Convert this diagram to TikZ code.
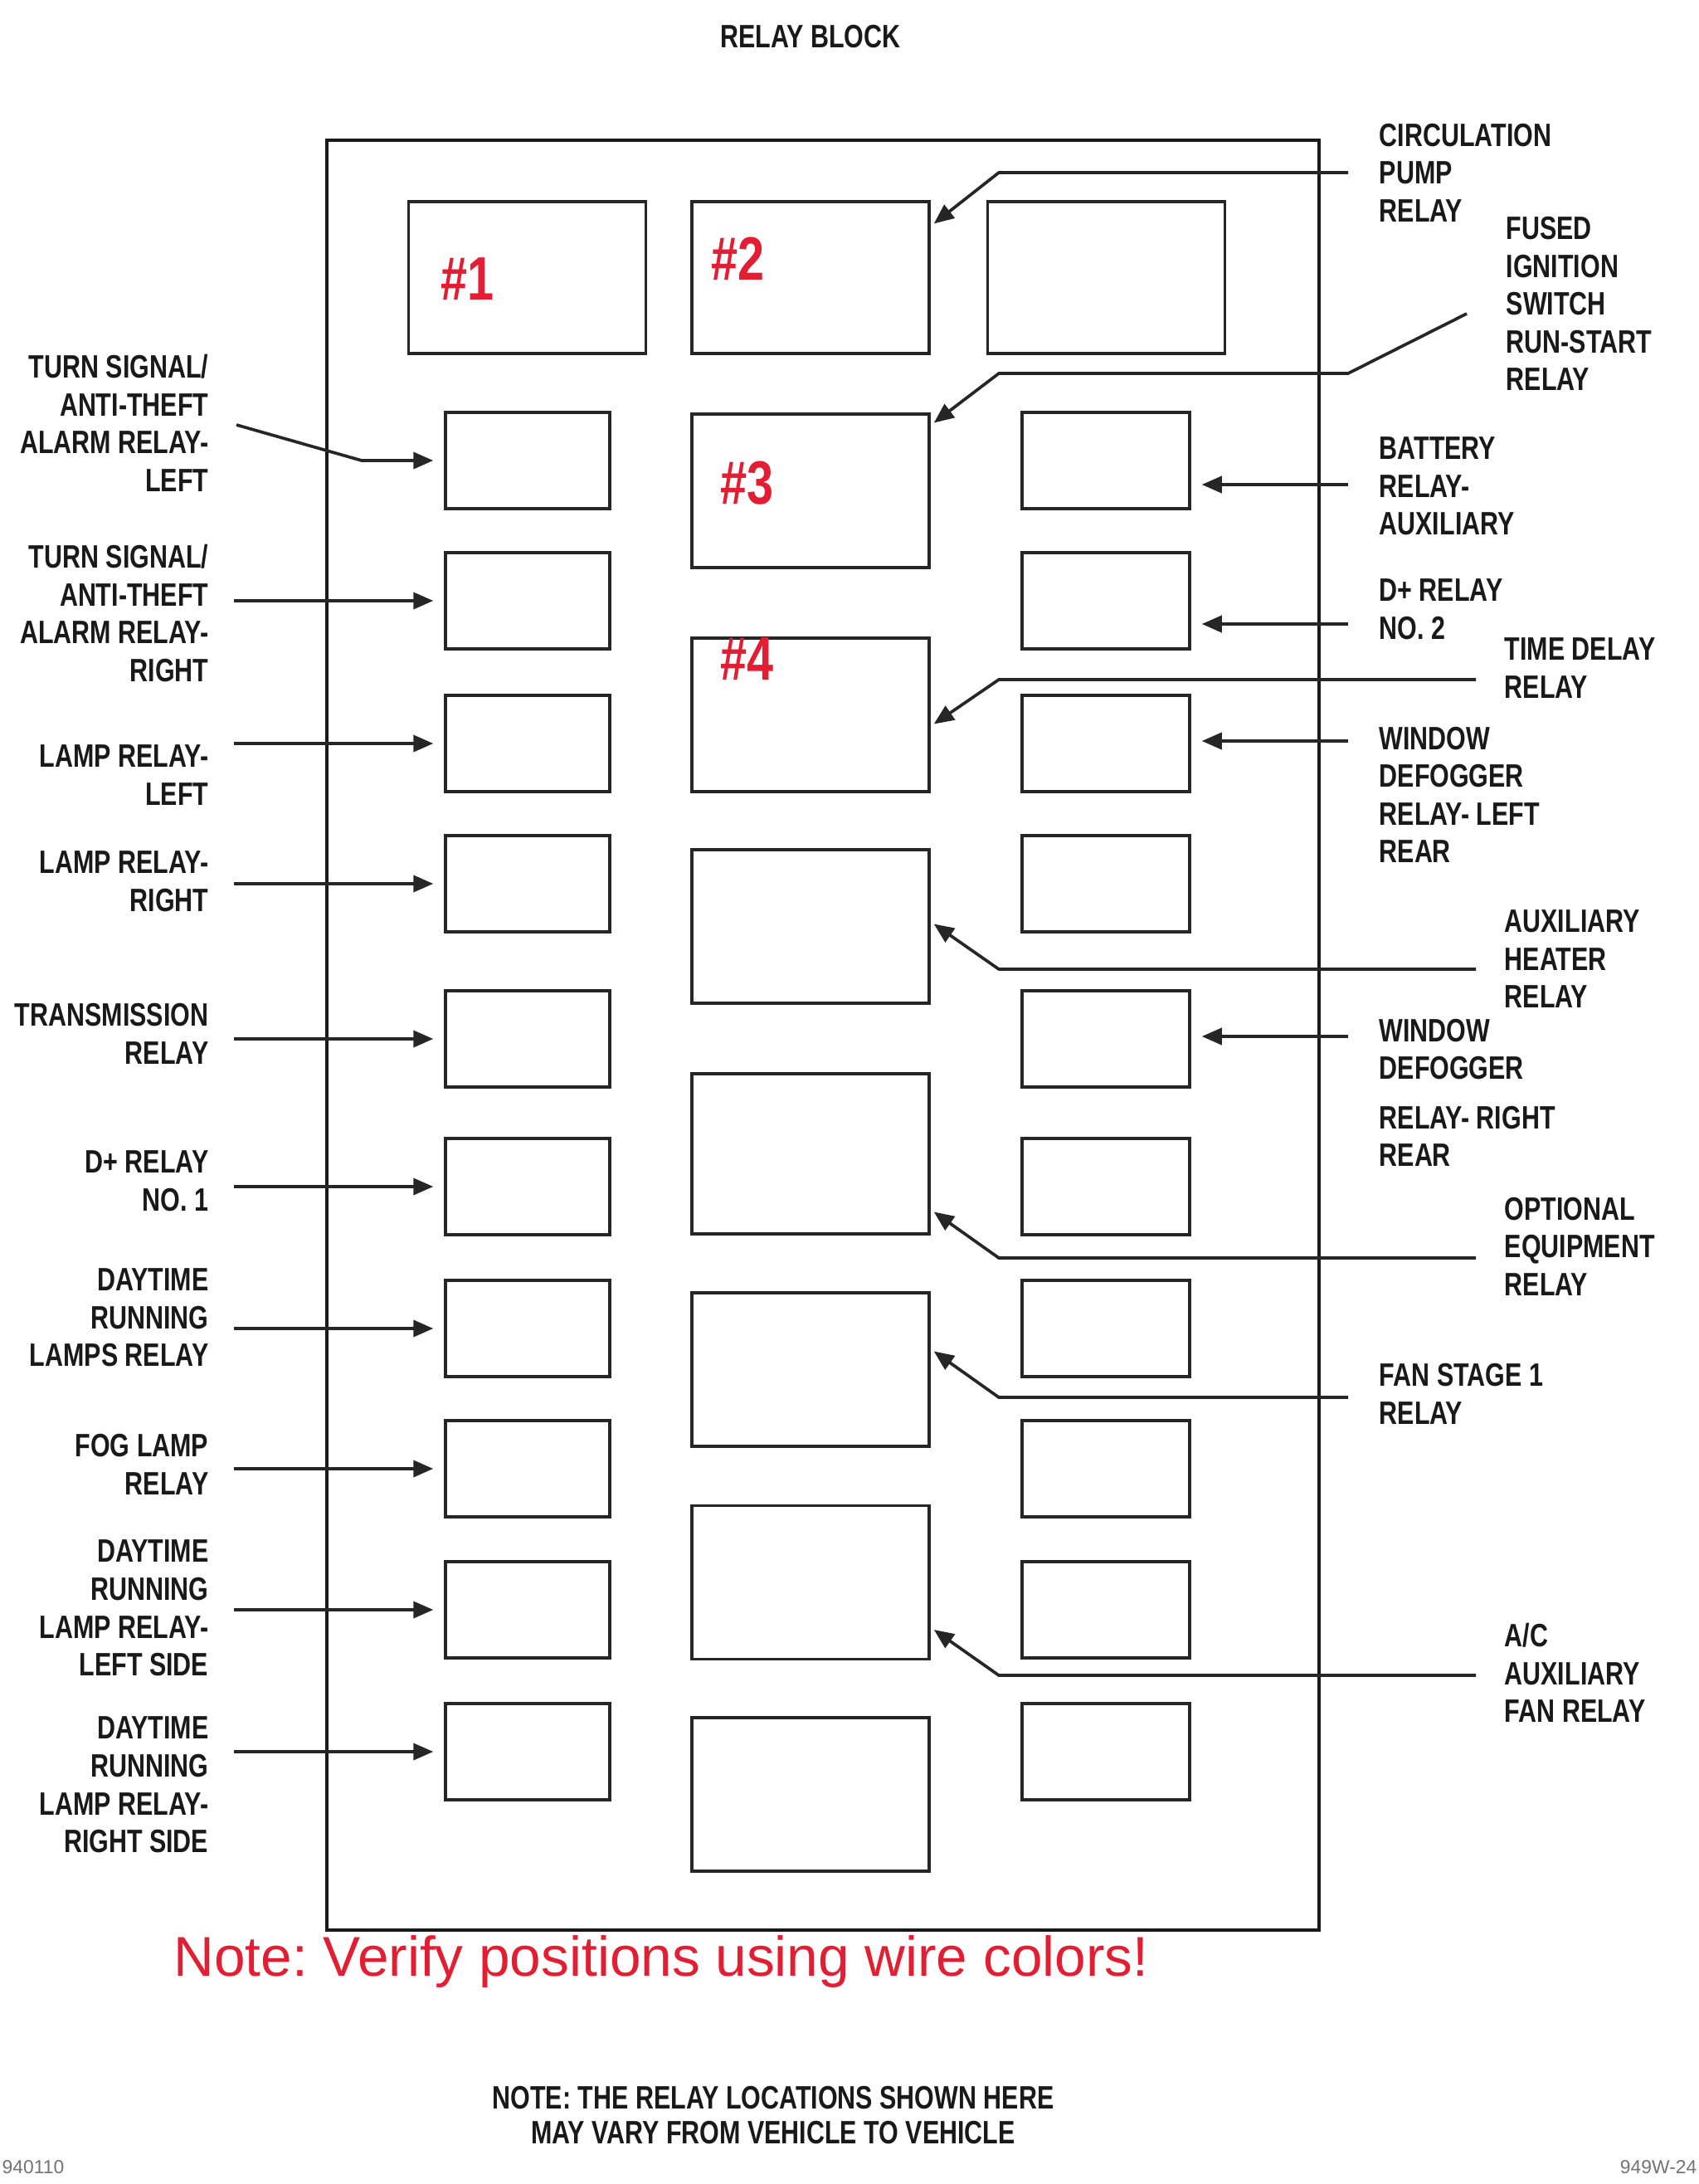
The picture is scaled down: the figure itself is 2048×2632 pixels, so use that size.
\documentclass[tikz,border=0pt]{standalone}
\usepackage{fontspec}
\setmainfont{Liberation Sans}
\newfontfamily\lblfont[FakeStretch=0.78]{Liberation Sans}
\usetikzlibrary{arrows.meta,calc}
\definecolor{notered}{RGB}{228,30,50}
\begin{document}
\frenchspacing
\begin{tikzpicture}[x=0.01cm,y=-0.01cm,
  boxline/.style={draw=black!85, line width=0.95pt, inner sep=0pt},
  lbox/.style={boxline, minimum width=1.98cm, minimum height=1.16cm},
  rbox/.style={boxline, minimum width=2.02cm, minimum height=1.16cm},
  mbox/.style={boxline, minimum width=2.86cm, minimum height=1.85cm},
  lbl/.style={font=\lblfont\bfseries\fontsize{11.1}{12.95}\selectfont, inner sep=0pt, text=black!90},
  lblL/.style={lbl, align=right, anchor=east},
  lblR/.style={lbl, align=left, anchor=west},
  conn/.style={line width=1.05pt, draw=black!85},
  arr/.style={conn, -{Triangle[length=0.24cm,width=0.2cm]}},
  sidearr/.style={arr, shorten >=0.13cm},
  numred/.style={font=\lblfont\bfseries\fontsize{21}{24}\selectfont, text=notered, inner sep=0pt}
]
\useasboundingbox (0,0) rectangle (2048,2632);

% title
\node[lbl] (title) at (977,44) {RELAY BLOCK};

% outer frame
\node[draw=black!90, line width=1.1pt, minimum width=11.96cm, minimum height=21.55cm, inner sep=0pt] (frame) at (992,1247.5) {};

% top row
\node[mbox, minimum height=1.83cm] (tb1) at (635.5,334.5) {};
\node[mbox, minimum height=1.83cm] (tb2) at (977,334.5) {};
\node[mbox, minimum height=1.83cm] (tb3) at (1333.5,334.5) {};
\node[numred] (n1) at (564,336) {\#1};
\node[numred] (n2) at (890,312) {\#2};

% middle column
\node[mbox] (mb3) at (977,591.5) {};
\node[mbox] (mb4) at (977,861.5) {};
\node[mbox] (mb5) at (977,1116.5) {};
\node[mbox, minimum height=1.93cm] (mb6) at (977,1390.5) {};
\node[mbox] (mb7) at (977,1650.5) {};
\node[mbox] (mb8) at (977,1907) {};
\node[mbox] (mb9) at (977,2162.5) {};
\node[numred] (n3) at (901,582) {\#3};
\node[numred] (n4) at (901,794) {\#4};

% left and right small boxes
\foreach \i/\y in {1/555,2/724,3/896,4/1065,5/1252,6/1430,7/1601,8/1770,9/1940,10/2111}{
  \node[lbox] (lb\i) at (636,\y) {};
  \node[rbox] (rb\i) at (1333,\y) {};
}

% left labels
\node[lblL] (L1) at (252,510) {TURN SIGNAL/\\ANTI-THEFT\\ALARM RELAY-\\LEFT};
\node[lblL] (L2) at (252,739) {TURN SIGNAL/\\ANTI-THEFT\\ALARM RELAY-\\RIGHT};
\node[lblL] (L3) at (252,934) {LAMP RELAY-\\LEFT};
\node[lblL] (L4) at (252,1062) {LAMP RELAY-\\RIGHT};
\node[lblL] (L5) at (252,1246) {TRANSMISSION\\RELAY};
\node[lblL] (L6) at (252,1423) {D+ RELAY\\NO. 1};
\node[lblL] (L7) at (252,1588) {DAYTIME\\RUNNING\\LAMPS RELAY};
\node[lblL] (L8) at (252,1765) {FOG LAMP\\RELAY};
\node[lblL] (L9) at (252,1938) {DAYTIME\\RUNNING\\LAMP RELAY-\\LEFT SIDE};
\node[lblL] (L10) at (252,2151) {DAYTIME\\RUNNING\\LAMP RELAY-\\RIGHT SIDE};

% left connectors
\coordinate (s1) at (285,512);
\coordinate (k1) at (436,555);
\draw[sidearr] (s1) -- (k1) -- (lb1.west);
\foreach \i in {2,...,10}{
  \coordinate (s\i) at (282,0 |- lb\i.west);
  \draw[sidearr] (s\i |- lb\i.west) -- (lb\i.west);
}

% right labels
\node[lblR] (R1) at (1662,208) {CIRCULATION\\PUMP\\RELAY};
\node[lblR] (R2) at (1815,366) {FUSED\\IGNITION\\SWITCH\\RUN-START\\RELAY};
\node[lblR] (R3) at (1662,586) {BATTERY\\RELAY-\\AUXILIARY};
\node[lblR] (R4) at (1662,734) {D+ RELAY\\NO. 2};
\node[lblR] (R5) at (1813,805) {TIME DELAY\\RELAY};
\node[lblR] (R6) at (1662,958) {WINDOW\\DEFOGGER\\RELAY- LEFT\\REAR};
\node[lblR] (R7) at (1813,1156) {AUXILIARY\\HEATER\\RELAY};
\node[lblR] (R8) at (1662,1317) {WINDOW\\DEFOGGER\\[4pt]RELAY- RIGHT\\REAR};
\node[lblR] (R9) at (1813,1502) {OPTIONAL\\EQUIPMENT\\RELAY};
\node[lblR] (R10) at (1662,1680) {FAN STAGE 1\\RELAY};
\node[lblR] (R11) at (1813,2016) {A/C\\AUXILIARY\\FAN RELAY};

% right straight arrows
\coordinate (a1) at (1625,584);
\coordinate (a2) at (1625,752);
\coordinate (a3) at (1625,893);
\coordinate (a5) at (1625,1249);
\draw[sidearr] (a1) -- (a1 -| rb1.east);
\draw[sidearr] (a2) -- (a2 -| rb2.east);
\draw[sidearr] (a3) -- (a3 -| rb3.east);
\draw[sidearr] (a5) -- (a5 -| rb5.east);

% right elbow connectors to middle column
\coordinate (p1) at (1625,208);  \coordinate (q1) at (1204,208);
\draw[arr] (p1) -- (q1) -- ($(tb2.east)+(4,-65)$);

\coordinate (p2a) at (1768,378); \coordinate (p2) at (1625,450); \coordinate (q2) at (1204,450);
\draw[arr] (p2a) -- (p2) -- (q2) -- ($(mb3.east)+(4,-82)$);

\coordinate (p3) at (1779,819);  \coordinate (q3) at (1204,819);
\draw[arr] (p3) -- (q3) -- ($(mb4.east)+(4,11)$);

\coordinate (p4) at (1779,1168); \coordinate (q4) at (1204,1168);
\draw[arr] (p4) -- (q4) -- ($(mb5.east)+(4,-3)$);

\coordinate (p5) at (1779,1516); \coordinate (q5) at (1204,1516);
\draw[arr] (p5) -- (q5) -- ($(mb6.east)+(4,70)$);

\coordinate (p6) at (1625,1684); \coordinate (q6) at (1204,1684);
\draw[arr] (p6) -- (q6) -- ($(mb7.east)+(4,-22)$);

\coordinate (p7) at (1779,2019); \coordinate (q7) at (1204,2019);
\draw[arr] (p7) -- (q7) -- ($(mb8.east)+(4,57)$);

% red note
\node[font=\fontsize{19.2}{22}\selectfont, text=notered, inner sep=0pt] (rednote) at (797,2364) {Note: Verify positions using wire colors!};

% bottom note
\node[lbl, align=center, font=\lblfont\bfseries\fontsize{11.1}{11.95}\selectfont] (botnote) at (932,2549) {NOTE: THE RELAY LOCATIONS SHOWN HERE\\MAY VARY FROM VEHICLE TO VEHICLE};

% corner codes
\node[anchor=west, font=\fontsize{6.5}{8}\selectfont, text=black!55, inner sep=0pt] (codeL) at (2,2612) {940110};
\node[anchor=east, font=\fontsize{6.5}{8}\selectfont, text=black!55, inner sep=0pt] (codeR) at (2046,2612) {949W-24};
\end{tikzpicture}
\end{document}
